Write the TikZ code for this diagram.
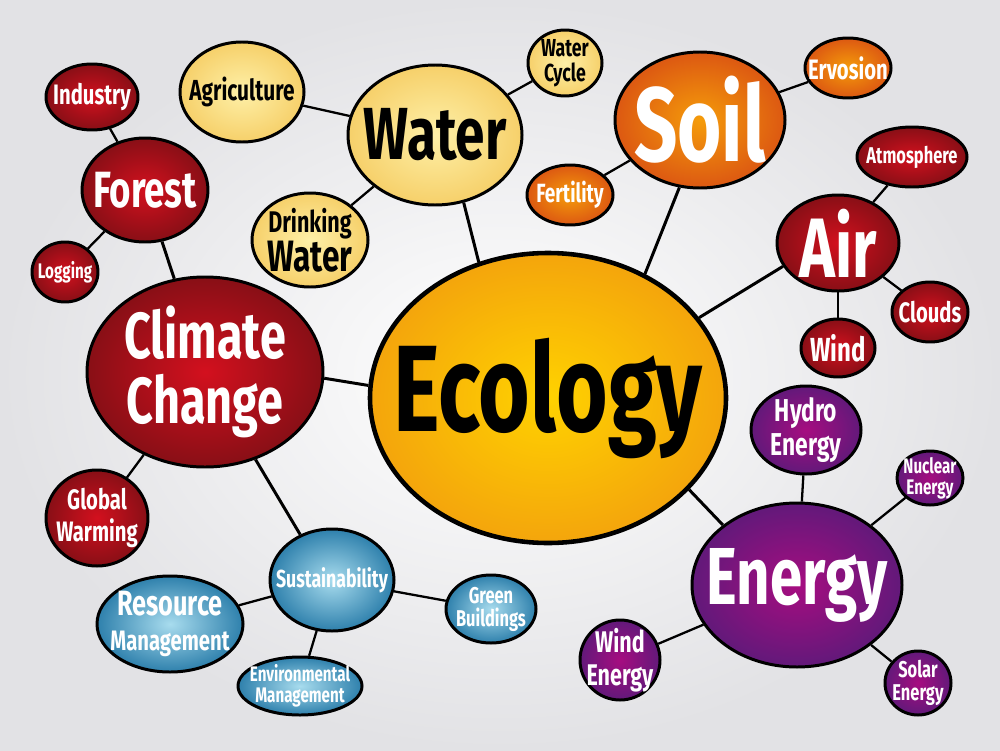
\documentclass[tikz,border=0pt]{standalone}
\usepackage{fontspec}
\setmainfont{Fira Sans}[FakeStretch=0.72]
\usetikzlibrary{shapes.geometric,positioning}

\definecolor{bgrey}{HTML}{E2E2E5}
\definecolor{yelin}{HTML}{FEF0A8}
\definecolor{yelout}{HTML}{F6D06A}
\definecolor{ecoin}{HTML}{FFD200}
\definecolor{ecoout}{HTML}{F4A50C}
\definecolor{orin}{HTML}{F59C0A}
\definecolor{orout}{HTML}{DC5812}
\definecolor{redin}{HTML}{D3101E}
\definecolor{redout}{HTML}{880F16}
\definecolor{purin}{HTML}{A60D80}
\definecolor{purout}{HTML}{62197A}
\definecolor{bluin}{HTML}{A8DCEE}
\definecolor{bluout}{HTML}{2E80AC}

\begin{document}
\begin{tikzpicture}[x=0.2mm,y=-0.2mm,
    bubble/.style={ellipse,draw=black,line width=1.7pt,inner sep=-300pt,align=center},
    sz/.style 2 args={minimum width=#1*0.4mm,minimum height=#2*0.4mm},
    fs/.style 2 args={font=\bfseries\fontsize{#1}{#2}\selectfont},
    yel/.style={bubble,inner color=yelin,outer color=yelout,text=black},
    eco/.style={bubble,line width=2.6pt,inner color=ecoin,outer color=ecoout,text=black},
    ora/.style={bubble,inner color=orin,outer color=orout,text=white},
    rd/.style={bubble,inner color=redin,outer color=redout,text=white},
    pur/.style={bubble,inner color=purin,outer color=purout,text=white},
    blu/.style={bubble,inner color=bluin,outer color=bluout,text=white},
    link/.style={line width=1.7pt},
    twig/.style={line width=1.3pt}]
   \useasboundingbox (0,0) rectangle (1000,750);
   \fill[inner color=white,outer color=bgrey] (0,0) rectangle (1000,750);

   \node (E) [eco,sz={178}{145},fs={70}{70}] at (548,398) {Ecology};

   \node (W) [yel,sz={87}{70},fs={42}{42}] at (435,135) {Water};
   \node (W1) [yel,sz={62}{50},fs={16.5}{16.5}] at (242,92) {Agriculture};
   \node (W2) [yel,sz={37}{33},fs={14}{14}] at (565,63) {Water\\Cycle};
   \node (W3) [yel,sz={58}{47},fs={17}{22}] at (310,240) {Drinking\\{\fontsize{25}{25}\selectfont Water}};

   \node (S) [ora,sz={85}{68},fs={60}{60}] at (700,120) {Soil};
   \node (S1) [ora,sz={43}{30},fs={16}{16}] at (848,68) {Ervosion};
   \node (S2) [ora,sz={43}{30},fs={15}{15}] at (570,195) {Fertility};

   \node (A) [rd,sz={61}{48},fs={48}{48}] at (838,243) {Air};
   \node (A1) [rd,sz={55}{30},fs={13}{13}] at (912,157) {Atmosphere};
   \node (A2) [rd,sz={38}{30},fs={16}{16}] at (930,312) {Clouds};
   \node (A3) [rd,sz={37}{29},fs={19}{19}] at (838,348) {Wind};

   \node (N) [pur,sz={105}{82},fs={46}{46}] at (797,585) {Energy};
   \node (N1) [pur,sz={55}{44},fs={18}{19}] at (806,430) {Hydro\\Energy};
   \node (N2) [pur,sz={33}{27},fs={12}{12}] at (930,478) {Nuclear\\Energy};
   \node (N3) [pur,sz={33}{32},fs={13}{13}] at (918,683) {Solar\\Energy};
   \node (N4) [pur,sz={40}{40},fs={17}{19}] at (620,660) {Wind\\Energy};

   \node (C) [rd,sz={118}{95},fs={37}{37}] at (205,372) {Climate\\Change};
   \node (F) [rd,sz={63}{52},fs={29}{29}] at (145,190) {Forest};
   \node (F1) [rd,sz={46}{33},fs={16}{16}] at (92,97) {Industry};
   \node (F2) [rd,sz={33}{30},fs={12}{12}] at (65,272) {Logging};
   \node (G) [rd,sz={51}{48},fs={16}{18}] at (97,518) {Global\\Warming};

   \node (U) [blu,sz={62}{51},fs={14}{14}] at (332,580) {Sustainability};
   \node (U1) [blu,sz={73}{48},fs={16}{20}] at (170,624) {{\fontsize{20}{20}\selectfont Resource}\\Management};
   \node (U2) [blu,sz={62}{29},fs={12}{12}] at (300,686) {Environmental\\Management};
   \node (U3) [blu,sz={45}{34},fs={13}{13}] at (491,609) {Green\\Buildings};

   \draw[link] (W.-67) -- (E.117);
   \draw[link] (S.253) -- (E.52);
   \draw[link] (A.203) -- (E.28);
   \draw[link] (N.141) -- (E.-33);
   \draw[link] (C.-3) -- (E.176);
   \draw[link] (C.-60) -- (U.125);

   \draw[twig] (W) -- (W1);
   \draw[twig] (W) -- (W2);
   \draw[twig] (W) -- (W3);
   \draw[twig] (S) -- (S1);
   \draw[twig] (S) -- (S2);
   \draw[twig] (A) -- (A1);
   \draw[twig] (A) -- (A2);
   \draw[twig] (A) -- (A3);
   \draw[twig] (N) -- (N1);
   \draw[twig] (N) -- (N2);
   \draw[twig] (N) -- (N3);
   \draw[twig] (N) -- (N4);
   \draw[link] (C) -- (F);
   \draw[twig] (F) -- (F1);
   \draw[twig] (F) -- (F2);
   \draw[twig] (C) -- (G);
   \draw[twig] (U) -- (U1);
   \draw[twig] (U) -- (U2);
   \draw[twig] (U) -- (U3);
\end{tikzpicture}
\end{document}
